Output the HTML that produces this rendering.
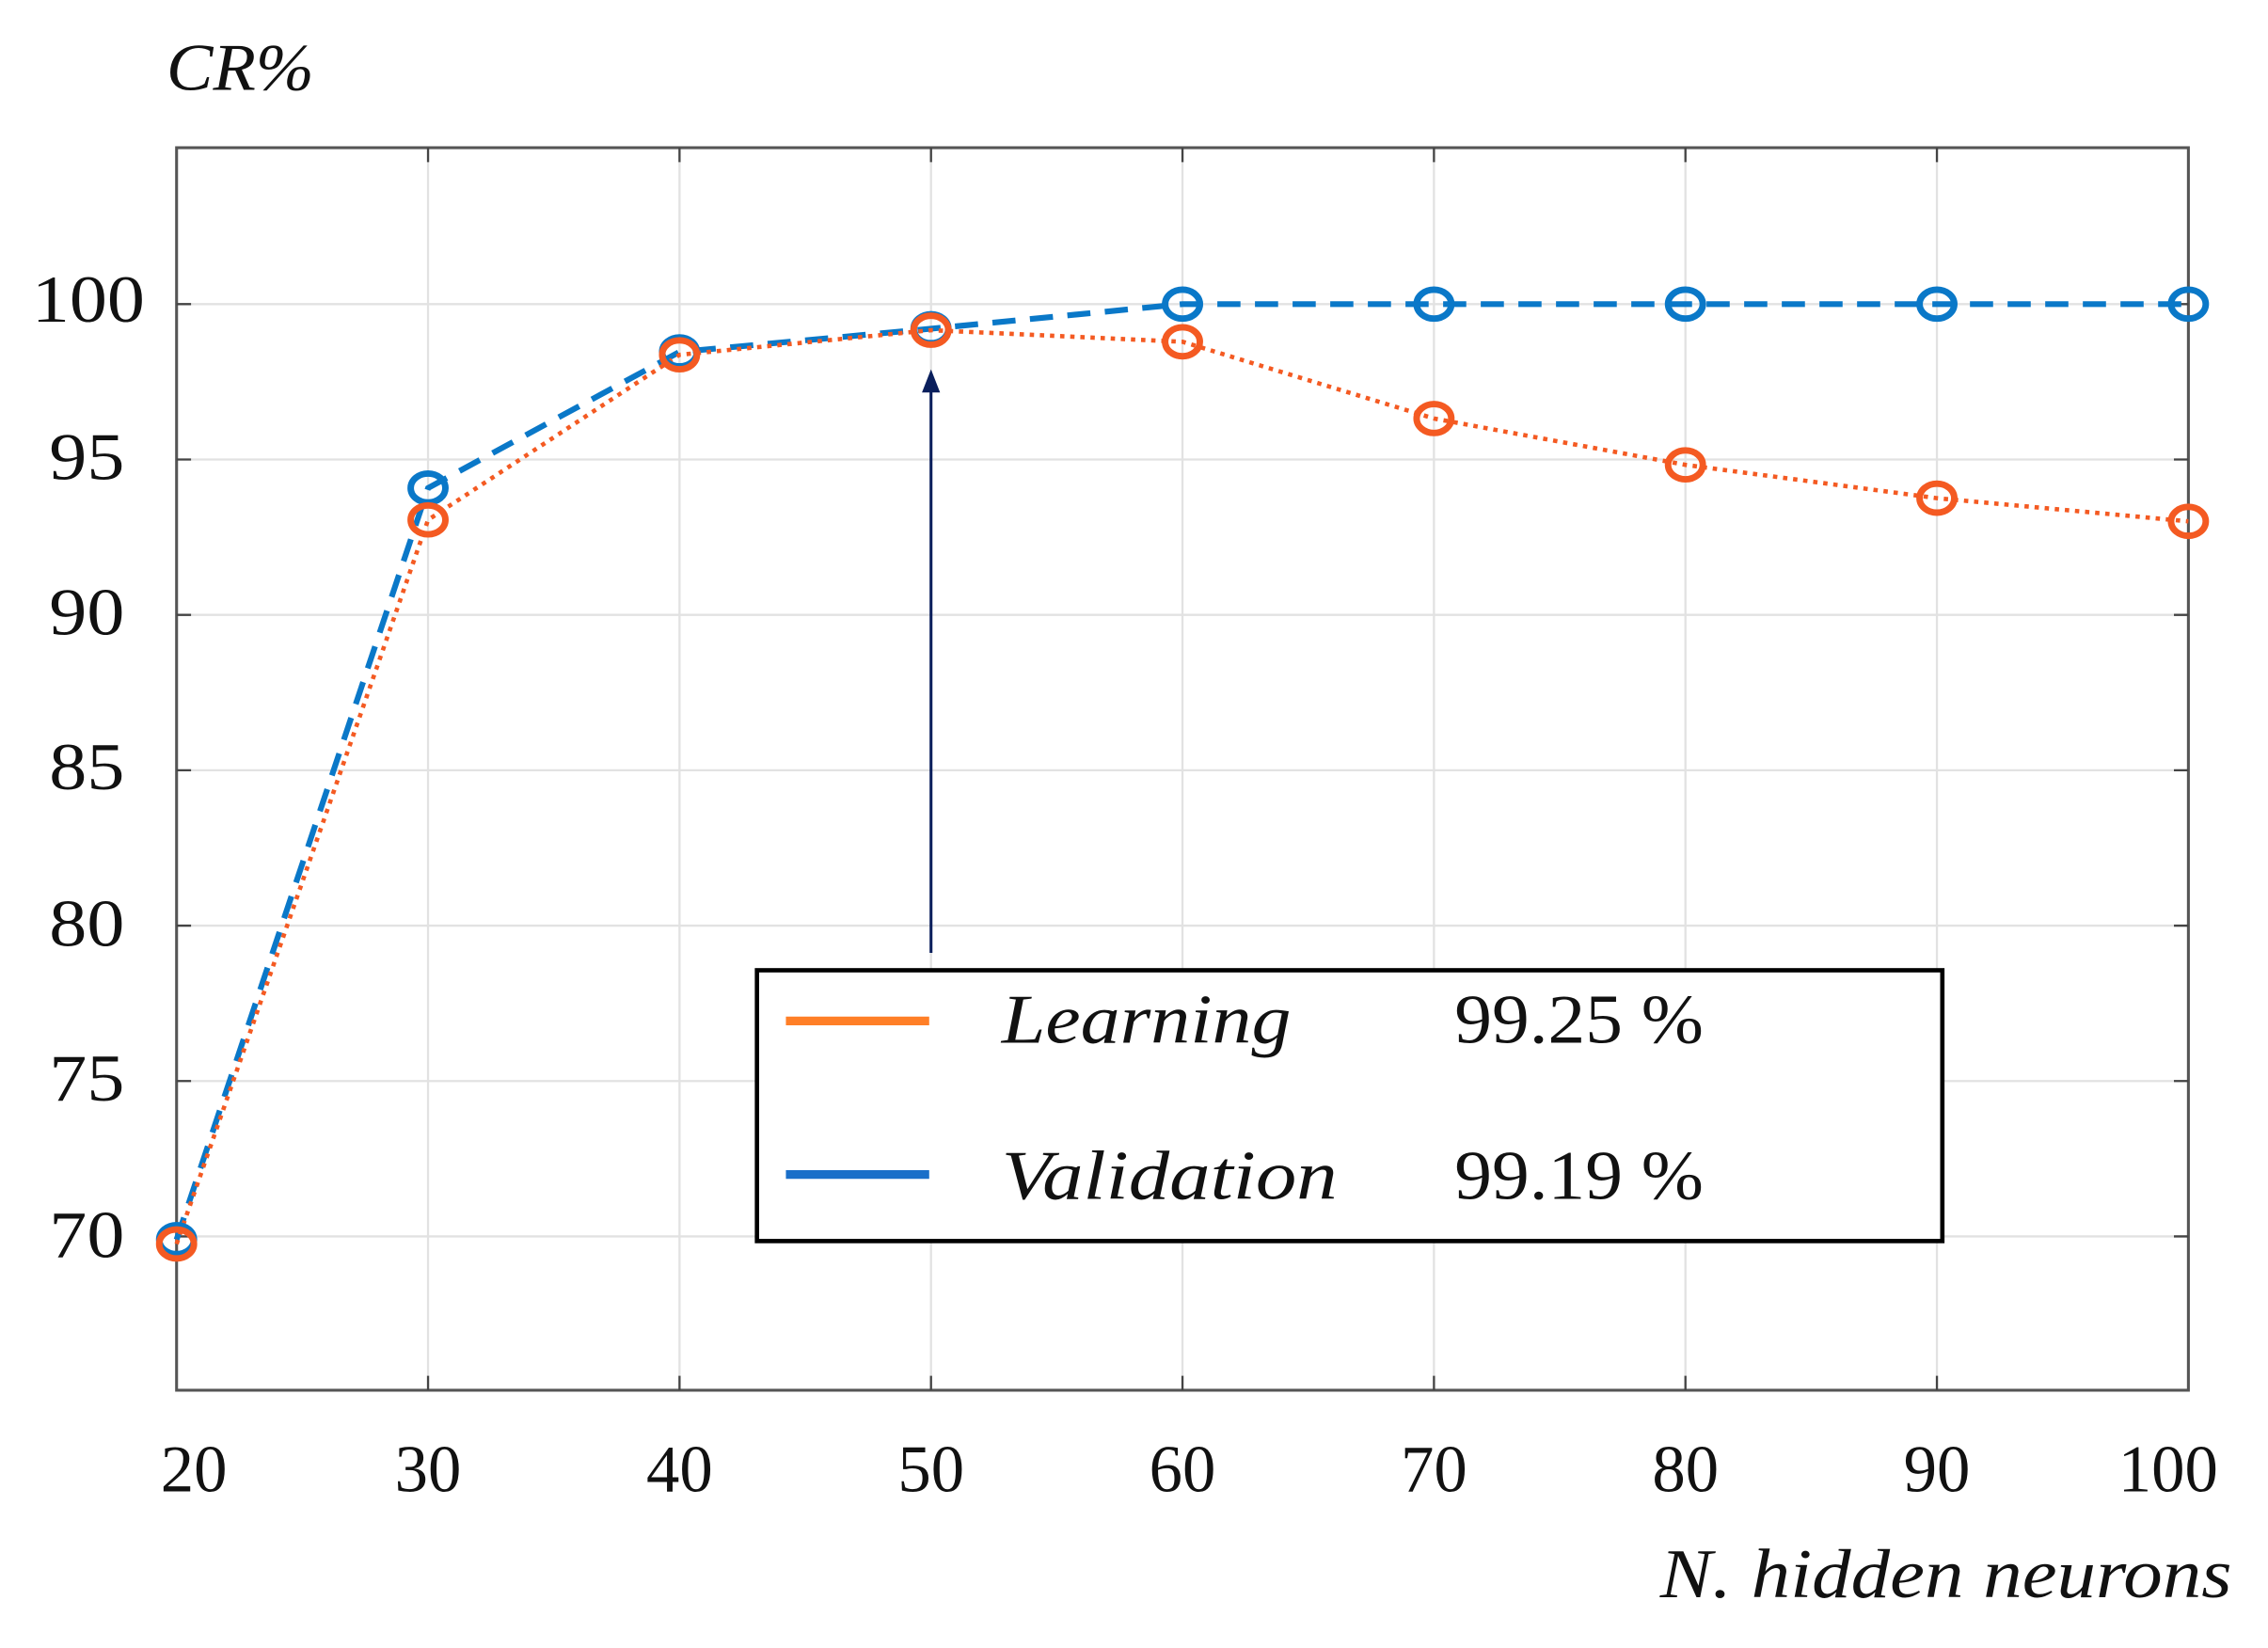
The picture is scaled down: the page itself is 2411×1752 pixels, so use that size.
<!DOCTYPE html>
<html><head><meta charset="utf-8"><style>
html,body{margin:0;padding:0;background:#fff;}
svg{display:block;}
text{font-family:"Liberation Serif","DejaVu Serif",serif;fill:#111;}
</style></head><body>
<svg width="2411" height="1752" viewBox="0 0 1567 1138" preserveAspectRatio="none" xmlns="http://www.w3.org/2000/svg">
<rect width="1567" height="1138" fill="#fff"/>
<g stroke="#e2e2e2" stroke-width="1.5">
<line x1="295.75" y1="102" x2="295.75" y2="960"/><line x1="469.5" y1="102" x2="469.5" y2="960"/>
<line x1="643.25" y1="102" x2="643.25" y2="960"/><line x1="817" y1="102" x2="817" y2="960"/>
<line x1="990.75" y1="102" x2="990.75" y2="960"/><line x1="1164.5" y1="102" x2="1164.5" y2="960"/>
<line x1="1338.25" y1="102" x2="1338.25" y2="960"/>
<line x1="122" y1="210" x2="1512" y2="210"/><line x1="122" y1="317.3" x2="1512" y2="317.3"/>
<line x1="122" y1="424.6" x2="1512" y2="424.6"/><line x1="122" y1="531.9" x2="1512" y2="531.9"/>
<line x1="122" y1="639.2" x2="1512" y2="639.2"/><line x1="122" y1="746.5" x2="1512" y2="746.5"/>
<line x1="122" y1="853.8" x2="1512" y2="853.8"/>
</g>
<rect x="122" y="102" width="1390" height="858" fill="none" stroke="#555" stroke-width="2"/>
<g stroke="#444" stroke-width="1.5">
<path d="M295.75 102v10M469.5 102v10M643.25 102v10M817 102v10M990.75 102v10M1164.5 102v10M1338.25 102v10"/>
<path d="M295.75 960v-10M469.5 960v-10M643.25 960v-10M817 960v-10M990.75 960v-10M1164.5 960v-10M1338.25 960v-10"/>
<path d="M122 210h10M122 317.3h10M122 424.6h10M122 531.9h10M122 639.2h10M122 746.5h10M122 853.8h10"/>
<path d="M1512 210h-10M1512 317.3h-10M1512 424.6h-10M1512 531.9h-10M1512 639.2h-10M1512 746.5h-10M1512 853.8h-10"/>
</g>
<g font-size="46" text-anchor="end">
<text x="100" y="222" textLength="78" lengthAdjust="spacingAndGlyphs">100</text><text x="86" y="331" textLength="52" lengthAdjust="spacingAndGlyphs">95</text><text x="86" y="438" textLength="52" lengthAdjust="spacingAndGlyphs">90</text>
<text x="86" y="545" textLength="52" lengthAdjust="spacingAndGlyphs">85</text><text x="86" y="653" textLength="52" lengthAdjust="spacingAndGlyphs">80</text><text x="86" y="760" textLength="52" lengthAdjust="spacingAndGlyphs">75</text><text x="86" y="868" textLength="52" lengthAdjust="spacingAndGlyphs">70</text>
</g>
<g font-size="46" text-anchor="middle">
<text x="134" y="1030">20</text><text x="295.75" y="1030">30</text><text x="469.5" y="1030">40</text>
<text x="643.25" y="1030">50</text><text x="817" y="1030">60</text><text x="990.75" y="1030">70</text>
<text x="1164.5" y="1030">80</text><text x="1338.25" y="1030">90</text><text x="1498" y="1030">100</text>
</g>
<text x="115" y="62" font-size="46" font-style="italic" textLength="102" lengthAdjust="spacingAndGlyphs">CR%</text>
<text x="1147" y="1103" font-size="48" font-style="italic" textLength="395" lengthAdjust="spacingAndGlyphs">N. hidden neurons</text>
<polyline fill="none" stroke="#0a78c8" stroke-width="4" stroke-dasharray="16,10" points="122,856 295.75,337 469.5,243 643.25,227 817,210 990.75,210 1164.5,210 1338.25,210 1512,210"/>
<polyline fill="none" stroke="#f45a22" stroke-width="3" stroke-dasharray="3,4" points="122,859 295.75,359 469.5,245 643.25,228 817,236 990.75,289 1164.5,321 1338.25,344 1512,360"/>
<g fill="none" stroke="#0a78c8" stroke-width="4.5">
<ellipse cx="122" cy="856" rx="12" ry="10"/><ellipse cx="295.75" cy="337" rx="12" ry="10"/><ellipse cx="469.5" cy="243" rx="12" ry="10"/>
<ellipse cx="643.25" cy="227" rx="12" ry="10"/><ellipse cx="817" cy="210" rx="12" ry="10"/><ellipse cx="990.75" cy="210" rx="12" ry="10"/>
<ellipse cx="1164.5" cy="210" rx="12" ry="10"/><ellipse cx="1338.25" cy="210" rx="12" ry="10"/><ellipse cx="1512" cy="210" rx="12" ry="10"/>
</g>
<g fill="none" stroke="#f45a22" stroke-width="4.5">
<ellipse cx="122" cy="859" rx="12" ry="10"/><ellipse cx="295.75" cy="359" rx="12" ry="10"/><ellipse cx="469.5" cy="245" rx="12" ry="10"/>
<ellipse cx="643.25" cy="228" rx="12" ry="10"/><ellipse cx="817" cy="236" rx="12" ry="10"/><ellipse cx="990.75" cy="289" rx="12" ry="10"/>
<ellipse cx="1164.5" cy="321" rx="12" ry="10"/><ellipse cx="1338.25" cy="344" rx="12" ry="10"/><ellipse cx="1512" cy="360" rx="12" ry="10"/>
</g>
<line x1="643.25" y1="658" x2="643.25" y2="268" stroke="#0a1f5c" stroke-width="2"/>
<polygon points="643.25,255 637,271 649.5,271" fill="#0a1f5c"/>
<rect x="523" y="670" width="819" height="187" fill="#fff" stroke="#000" stroke-width="3"/>
<line x1="543" y1="705" x2="642" y2="705" stroke="#ff7f27" stroke-width="6"/>
<line x1="543" y1="811" x2="642" y2="811" stroke="#1a6fc9" stroke-width="6"/>
<text x="692" y="720" font-size="48" font-style="italic" textLength="200" lengthAdjust="spacingAndGlyphs">Learning</text>
<text x="692" y="828" font-size="48" font-style="italic" textLength="232" lengthAdjust="spacingAndGlyphs">Validation</text>
<text x="1005" y="720" font-size="48" textLength="172" lengthAdjust="spacingAndGlyphs">99.25 %</text>
<text x="1005" y="828" font-size="48" textLength="172" lengthAdjust="spacingAndGlyphs">99.19 %</text>
</svg>
</body></html>
